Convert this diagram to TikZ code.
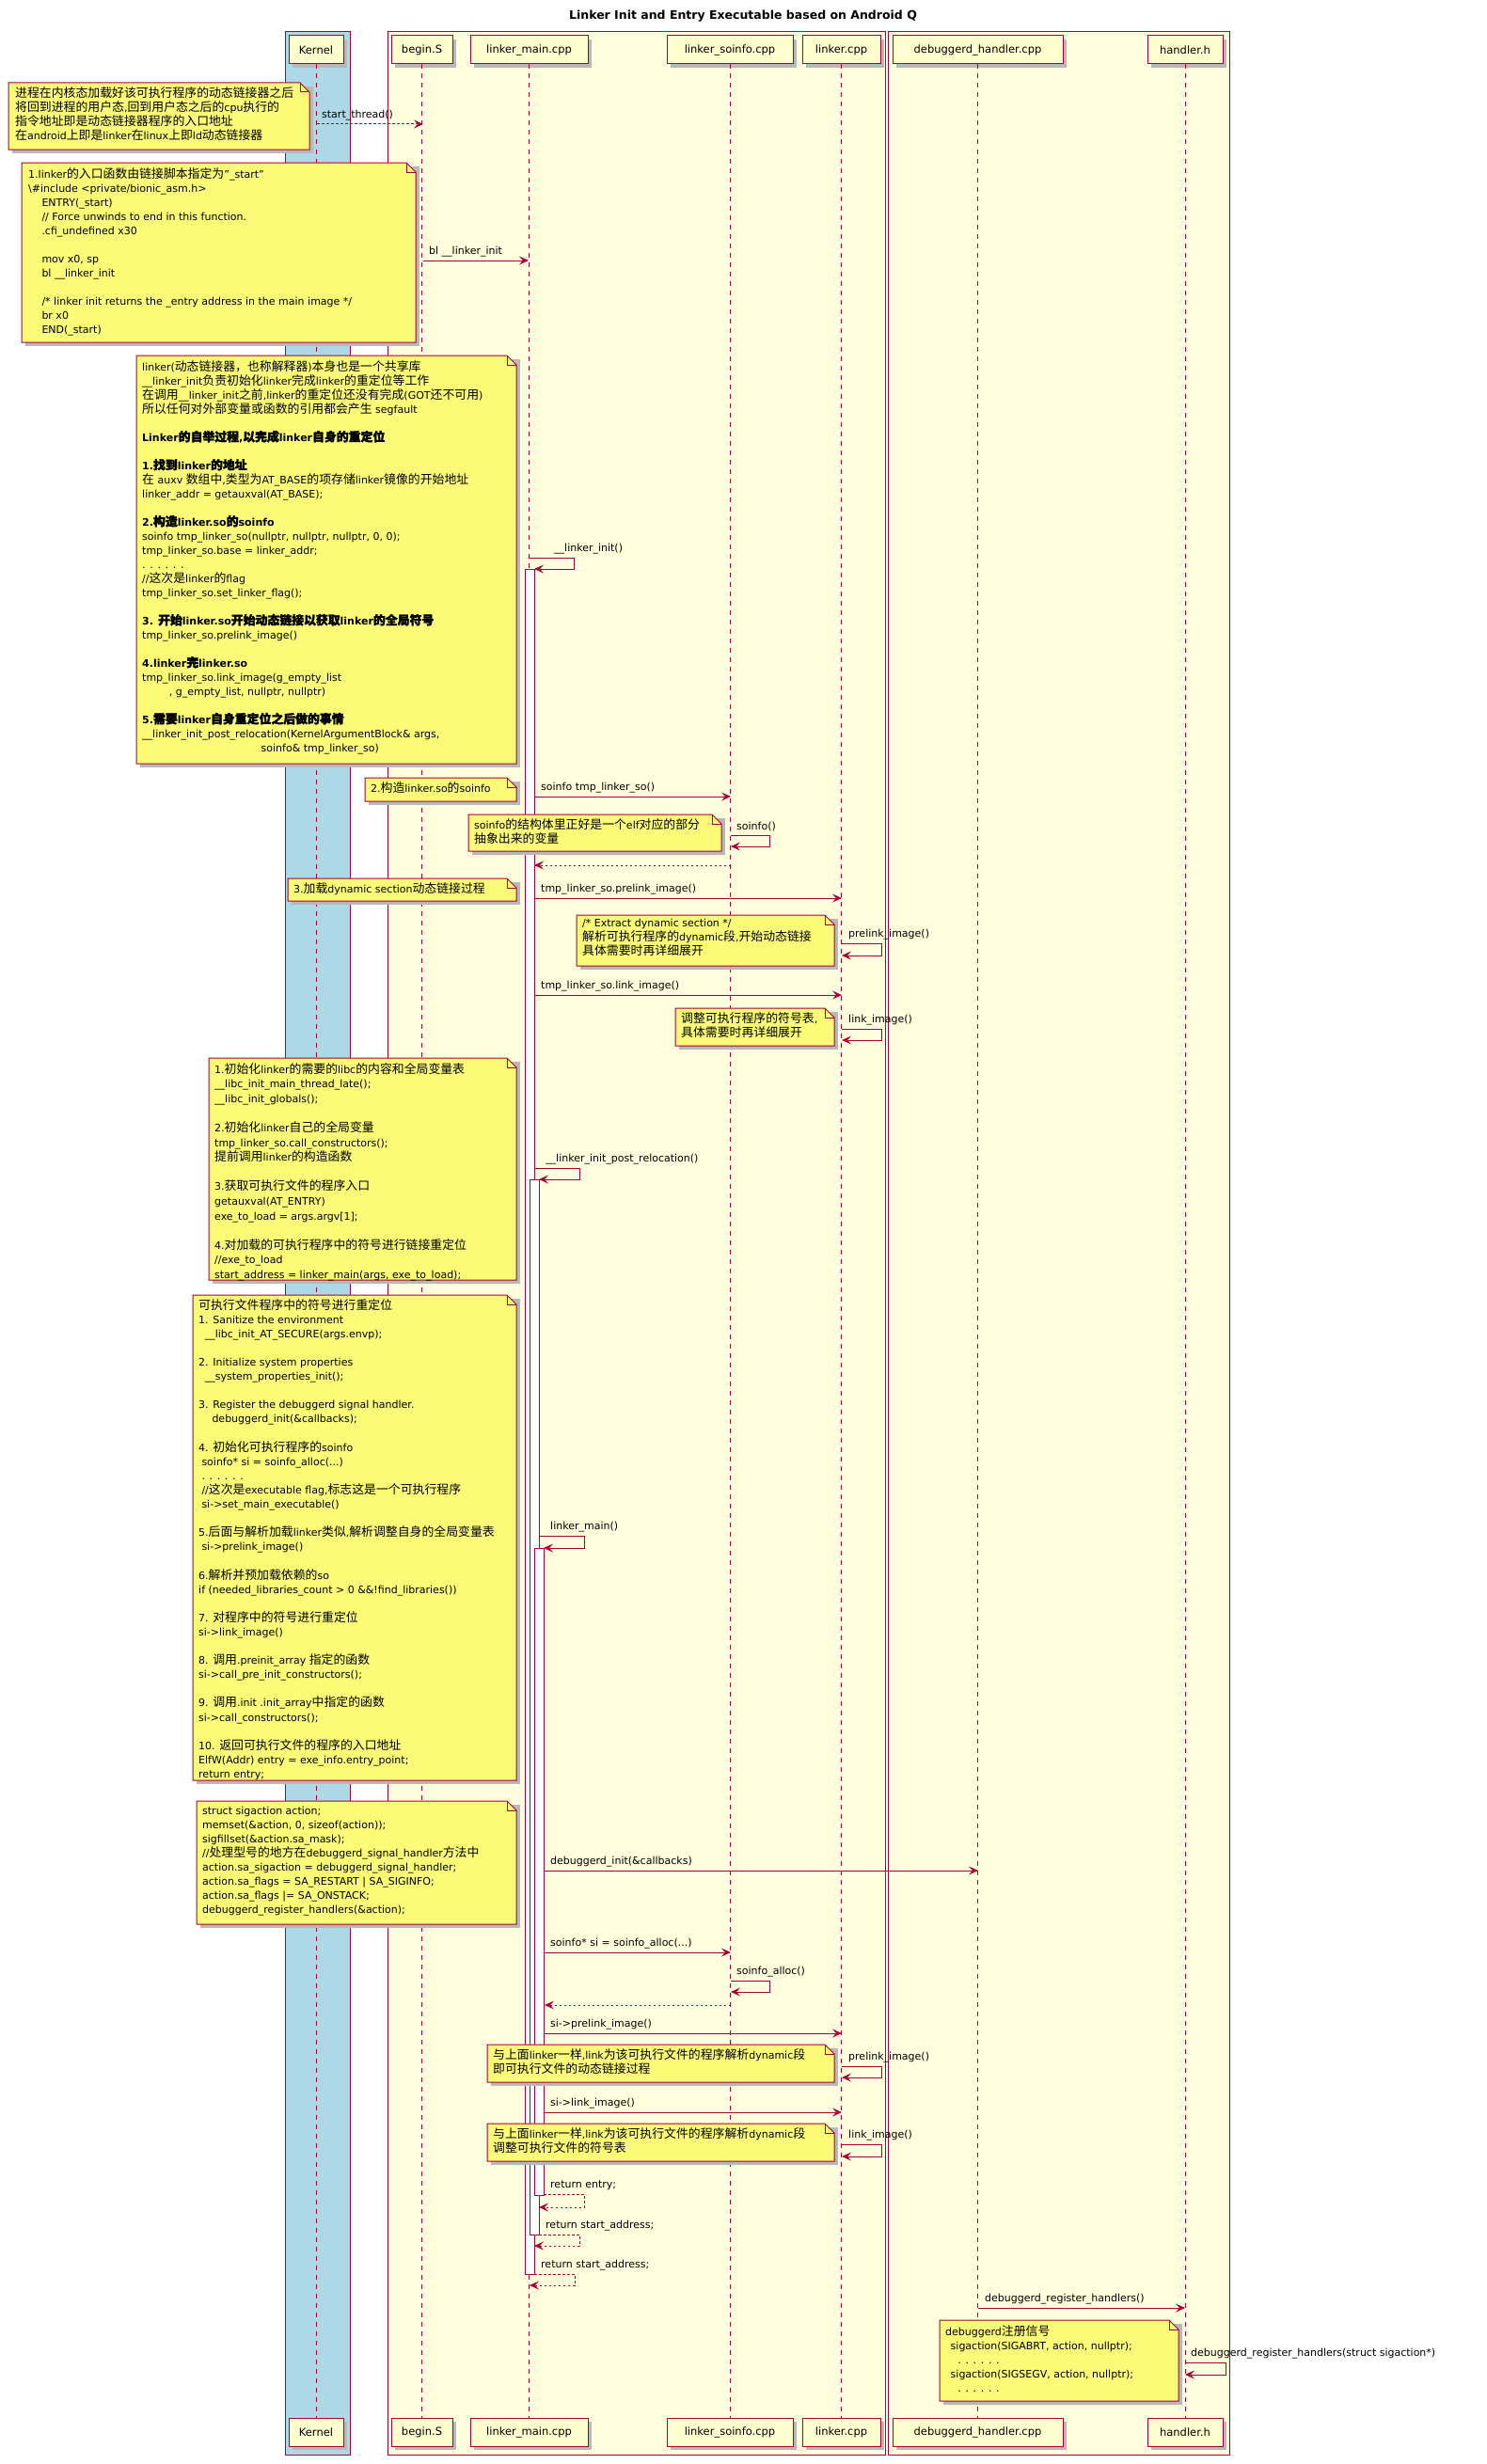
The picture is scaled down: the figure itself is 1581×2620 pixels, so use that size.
\documentclass[tikz,border=0pt]{standalone}
\usepackage{fontspec}
\setmainfont{DejaVu Sans}
\newfontfamily\cjk[Scale=1.17]{Noto Sans CJK SC}
\newfontfamily\cjkb[Scale=1.17,FakeBold=2]{Noto Sans CJK SC}
\newcommand\zh[1]{{\cjk #1}}
\newcommand\zhb[1]{{\cjkb #1}}
\usetikzlibrary{arrows.meta}
\definecolor{crim}{HTML}{A80036}
\definecolor{notefill}{HTML}{FBFB77}
\definecolor{partfill}{HTML}{FEFECE}
\definecolor{grpfill}{HTML}{FFFFDD}
\definecolor{kern}{HTML}{ADD8E6}
\definecolor{shad}{HTML}{B8B8B8}
\newcommand\notebg[4]{%
  \fill[shad] (#1+4,#2+4) rectangle (#3+4,#4+4);
  \draw[crim,fill=notefill,line width=1pt] (#1,#2) -- (#3-10,#2) -- (#3,#2+10) -- (#3,#4) -- (#1,#4) -- cycle;
  \draw[crim,line width=1pt] (#3-10,#2) -- (#3-10,#2+10) -- (#3,#2+10);}
\newcommand\partbox[5]{%
  \fill[shad] (#2+4,#3+4) rectangle (#4+4,#3+34);
  \node[part,minimum width=#4-#2] (#1) at ({(#2+#4)/2},#3+15) {#5};}
\tikzset{
  part/.style={draw=crim,fill=partfill,line width=1pt,minimum height=30pt,inner sep=0pt,font=\fontsize{11.5}{14}\selectfont},
  life/.style={crim,line width=1pt,dash pattern=on 5pt off 5pt},
  msg/.style={crim,line width=1pt,-{Stealth[length=10pt,width=9pt,inset=4pt]}},
  ret/.style={msg,dash pattern=on 2.5pt off 2.5pt},
  lbl/.style={anchor=south west,inner sep=0pt,font=\fontsize{11}{14}\selectfont},
  notetext/.style={anchor=north west,inner sep=0pt,align=left,font=\fontsize{11}{15}\selectfont},
  bar/.style={draw=crim,fill=white,line width=1pt},
}
\begin{document}
\begin{tikzpicture}[x=1pt,y=-1pt]
\useasboundingbox (0,0) rectangle (1581,2620);
\fill[white] (0,0) rectangle (1581,2620);
\node[font=\bfseries\fontsize{12.5}{15}\selectfont] (title) at (790,17) {Linker Init and Entry Executable based on Android Q};
% groups
\draw[crim,fill=kern,line width=1pt] (303,34) rectangle (372,2610);
\draw[crim,fill=grpfill,line width=1pt] (412,34) rectangle (941,2610);
\draw[crim,fill=grpfill,line width=1pt] (944,34) rectangle (1307,2610);
% participants
\partbox{pK}{307}{38}{365}{Kernel}
\partbox{pB}{416}{38}{481}{begin.S}
\partbox{pM}{500}{38}{625}{linker\_main.cpp}
\partbox{pS}{709}{38}{843}{linker\_soinfo.cpp}
\partbox{pL}{853}{38}{936}{linker.cpp}
\partbox{pD}{949}{38}{1130}{debuggerd\_handler.cpp}
\partbox{pH}{1220}{38}{1300}{handler.h}
\partbox{pKb}{307}{2571}{365}{Kernel}
\partbox{pBb}{416}{2571}{481}{begin.S}
\partbox{pMb}{500}{2571}{625}{linker\_main.cpp}
\partbox{pSb}{709}{2571}{843}{linker\_soinfo.cpp}
\partbox{pLb}{853}{2571}{936}{linker.cpp}
\partbox{pDb}{949}{2571}{1130}{debuggerd\_handler.cpp}
\partbox{pHb}{1220}{2571}{1300}{handler.h}
\draw[life] (pK.south) -- (pKb.north);
\draw[life] (pB.south) -- (pBb.north);
\draw[life] (pM.south) -- (pMb.north);
\draw[life] (pS.south) -- (pSb.north);
\draw[life] (pL.south) -- (pLb.north);
\draw[life] (pD.south) -- (pDb.north);
\draw[life] (pH.south) -- (pHb.north);
% activation bars
\draw[bar] (558,605) rectangle (568,2418);
\draw[bar] (563,1254) rectangle (573,2376);
\draw[bar] (568,1646) rectangle (578,2334);

% notes
\notebg{9}{88}{329}{159}
\node[notetext] (nA) at (16,92) {\zh{进程在内核态加载好该可执行程序的动态链接器之后}\\
\zh{将回到进程的用户态},\zh{回到用户态之后的}cpu\zh{执行的}\\
\zh{指令地址即是动态链接器程序的入口地址}\\
\zh{在}android\zh{上即是}linker\zh{在}linux\zh{上即}ld\zh{动态链接器}};

\notebg{23}{173}{442}{364}
\node[notetext] (nB) at (30,178) {1.linker\zh{的入口函数由链接脚本指定为}"\_start"\\
\textbackslash\#include <private/bionic\_asm.h>\\
\hspace*{1.3em}ENTRY(\_start)\\
\hspace*{1.3em}// Force unwinds to end in this function.\\
\hspace*{1.3em}.cfi\_undefined x30\\
~\\
\hspace*{1.3em}mov x0, sp\\
\hspace*{1.3em}bl \_\_linker\_init\\
~\\
\hspace*{1.3em}/* linker init returns the \_entry address in the main image */\\
\hspace*{1.3em}br x0\\
\hspace*{1.3em}END(\_start)};

\notebg{145}{378}{549}{812}
\node[notetext] (nC) at (151,383) {linker(\zh{动态链接器，也称解释器})\zh{本身也是一个共享库}\\
\_\_linker\_init\zh{负责初始化}linker\zh{完成}linker\zh{的重定位等工作}\\
\zh{在调用}\_\_linker\_init\zh{之前},linker\zh{的重定位还没有完成}(GOT\zh{还不可用})\\
\zh{所以任何对外部变量或函数的引用都会产生} segfault\\
~\\
\textbf{Linker\zhb{的自举过程},\zhb{以完成}linker\zhb{自身的重定位}}\\
~\\
\textbf{1.\zhb{找到}linker\zhb{的地址}}\\
\zh{在} auxv \zh{数组中},\zh{类型为}AT\_BASE\zh{的项存储}linker\zh{镜像的开始地址}\\
linker\_addr = getauxval(AT\_BASE);\\
~\\
\textbf{2.\zhb{构造}linker.so\zhb{的}soinfo}\\
soinfo tmp\_linker\_so(nullptr, nullptr, nullptr, 0, 0);\\
tmp\_linker\_so.base = linker\_addr;\\
. . . . . .\\
//\zh{这次是}linker\zh{的}flag\\
tmp\_linker\_so.set\_linker\_flag();\\
~\\
\textbf{3. \zhb{开始}linker.so\zhb{开始动态链接以获取}linker\zhb{的全局符号}}\\
tmp\_linker\_so.prelink\_image()\\
~\\
\textbf{4.linker\zhb{完}linker.so}\\
tmp\_linker\_so.link\_image(g\_empty\_list\\
\hspace*{2.6em}, g\_empty\_list, nullptr, nullptr)\\
~\\
\textbf{5.\zhb{需要}linker\zhb{自身重定位之后做的事情}}\\
\_\_linker\_init\_post\_relocation(KernelArgumentBlock\& args,\\
\hspace*{11.5em}soinfo\& tmp\_linker\_so)};

\notebg{388}{827}{549}{852}
\node[notetext] (n2) at (394,831) {2.\zh{构造}linker.so\zh{的}soinfo};
\notebg{498}{866}{767}{905}
\node[notetext] (nSo) at (504,870) {soinfo\zh{的结构体里正好是一个}elf\zh{对应的部分}\\ \zh{抽象出来的变量}};
\notebg{306}{934}{549}{958}
\node[notetext] (n3) at (312,938) {3.\zh{加载}dynamic section\zh{动态链接过程}};
\notebg{613}{973}{887}{1027}
\node[notetext] (nEx) at (619,977) {/* Extract dynamic section */\\ \zh{解析可执行程序的}dynamic\zh{段},\zh{开始动态链接}\\ \zh{具体需要时再详细展开}};
\notebg{718}{1072}{887}{1112}
\node[notetext] (nLk) at (724,1076) {\zh{调整可执行程序的符号表},\\ \zh{具体需要时再详细展开}};

\notebg{222}{1125}{549}{1361}
\node[notetext,font=\fontsize{11}{15.6}\selectfont] (nD) at (228,1130) {1.\zh{初始化}linker\zh{的需要的}libc\zh{的内容和全局变量表}\\
\_\_libc\_init\_main\_thread\_late();\\
\_\_libc\_init\_globals();\\
~\\
2.\zh{初始化}linker\zh{自己的全局变量}\\
tmp\_linker\_so.call\_constructors();\\
\zh{提前调用}linker\zh{的构造函数}\\
~\\
3.\zh{获取可执行文件的程序入口}\\
getauxval(AT\_ENTRY)\\
exe\_to\_load = args.argv[1];\\
~\\
4.\zh{对加载的可执行程序中的符号进行链接重定位}\\
//exe\_to\_load\\
start\_address = linker\_main(args, exe\_to\_load);};

\notebg{205}{1377}{549}{1893}
\node[notetext,font=\fontsize{11}{15.1}\selectfont] (nE) at (211,1381) {\zh{可执行文件程序中的符号进行重定位}\\
1. Sanitize the environment\\
\hspace*{0.6em}\_\_libc\_init\_AT\_SECURE(args.envp);\\
~\\
2. Initialize system properties\\
\hspace*{0.6em}\_\_system\_properties\_init();\\
~\\
3. Register the debuggerd signal handler.\\
\hspace*{1.3em}debuggerd\_init(\&callbacks);\\
~\\
4. \zh{初始化可执行程序的}soinfo\\
\hspace*{0.3em}soinfo* si = soinfo\_alloc(...)\\
\hspace*{0.3em}. . . . . .\\
\hspace*{0.3em}//\zh{这次是}executable flag,\zh{标志这是一个可执行程序}\\
\hspace*{0.3em}si->set\_main\_executable()\\
~\\
5.\zh{后面与解析加载}linker\zh{类似},\zh{解析调整自身的全局变量表}\\
\hspace*{0.3em}si->prelink\_image()\\
~\\
6.\zh{解析并预加载依赖的}so\\
if (needed\_libraries\_count > 0 \&\&!find\_libraries())\\
~\\
7. \zh{对程序中的符号进行重定位}\\
si->link\_image()\\
~\\
8. \zh{调用}.preinit\_array \zh{指定的函数}\\
si->call\_pre\_init\_constructors();\\
~\\
9. \zh{调用}.init .init\_array\zh{中指定的函数}\\
si->call\_constructors();\\
~\\
10. \zh{返回可执行文件的程序的入口地址}\\
ElfW(Addr) entry = exe\_info.entry\_point;\\
return entry;};

\notebg{209}{1915}{549}{2046}
\node[notetext] (nF) at (215,1921) {struct sigaction action;\\
memset(\&action, 0, sizeof(action));\\
sigfillset(\&action.sa\_mask);\\
//\zh{处理型号的地方在}debuggerd\_signal\_handler\zh{方法中}\\
action.sa\_sigaction = debuggerd\_signal\_handler;\\
action.sa\_flags = SA\_RESTART | SA\_SIGINFO;\\
action.sa\_flags |= SA\_ONSTACK;\\
debuggerd\_register\_handlers(\&action);};

\notebg{518}{2174}{887}{2214}
\node[notetext] (nP2) at (524,2178) {\zh{与上面}linker\zh{一样},link\zh{为该可执行文件的程序解析}dynamic\zh{段}\\ \zh{即可执行文件的动态链接过程}};
\notebg{518}{2258}{887}{2298}
\node[notetext] (nL2) at (524,2262) {\zh{与上面}linker\zh{一样},link\zh{为该可执行文件的程序解析}dynamic\zh{段}\\ \zh{调整可执行文件的符号表}};
\notebg{999}{2467}{1253}{2553}
\node[notetext] (nDbg) at (1005,2472) {debuggerd\zh{注册信号}\\
\hspace*{0.5em}sigaction(SIGABRT, action, nullptr);\\
\hspace*{1.2em}. . . . . .\\
\hspace*{0.5em}sigaction(SIGSEGV, action, nullptr);\\
\hspace*{1.2em}. . . . . .};

% messages
\draw[ret] (337,132) -- (450,132);
\node[lbl] (l1) at (342,128) {start\_thread()};
\draw[msg] (450,277) -- (562,277);
\node[lbl] (l2) at (456,273) {bl \_\_linker\_init};
\draw[msg] (563,593) -- (610,593) -- (610,605) -- (568,605);
\node[lbl] (l3) at (589,589) {\_\_linker\_init()};
\draw[msg] (568,847) -- (777,847);
\node[lbl] (l4) at (575,843) {soinfo tmp\_linker\_so()};
\draw[msg] (777,888) -- (818,888) -- (818,900) -- (777,900);
\node[lbl] (l5) at (783,884) {soinfo()};
\draw[ret] (777,920) -- (568,920);
\draw[msg] (568,955) -- (895,955);
\node[lbl] (l7) at (575,951) {tmp\_linker\_so.prelink\_image()};
\draw[msg] (895,1003) -- (937,1003) -- (937,1016) -- (895,1016);
\node[lbl] (l8) at (902,999) {prelink\_image()};
\draw[msg] (568,1058) -- (895,1058);
\node[lbl] (l9) at (575,1054) {tmp\_linker\_so.link\_image()};
\draw[msg] (895,1094) -- (937,1094) -- (937,1106) -- (895,1106);
\node[lbl] (l10) at (902,1090) {link\_image()};
\draw[msg] (568,1242) -- (616,1242) -- (616,1254) -- (573,1254);
\node[lbl] (l11) at (580,1238) {\_\_linker\_init\_post\_relocation()};
\draw[msg] (573,1633) -- (621,1633) -- (621,1646) -- (578,1646);
\node[lbl] (l12) at (585,1629) {linker\_main()};
\draw[msg] (578,1989) -- (1040,1989);
\node[lbl] (l13) at (585,1985) {debuggerd\_init(\&callbacks)};
\draw[msg] (578,2076) -- (777,2076);
\node[lbl] (l14) at (585,2072) {soinfo* si = soinfo\_alloc(...)};
\draw[msg] (777,2106) -- (818,2106) -- (818,2118) -- (777,2118);
\node[lbl] (l15) at (783,2102) {soinfo\_alloc()};
\draw[ret] (777,2132) -- (579,2132);
\draw[msg] (578,2162) -- (895,2162);
\node[lbl] (l17) at (585,2158) {si->prelink\_image()};
\draw[msg] (895,2197) -- (937,2197) -- (937,2209) -- (895,2209);
\node[lbl] (l18) at (902,2193) {prelink\_image()};
\draw[msg] (578,2246) -- (895,2246);
\node[lbl] (l19) at (585,2242) {si->link\_image()};
\draw[msg] (895,2280) -- (937,2280) -- (937,2293) -- (895,2293);
\node[lbl] (l20) at (902,2276) {link\_image()};
\draw[ret] (578,2333) -- (621,2333) -- (621,2347) -- (573,2347);
\node[lbl] (l21) at (585,2329) {return entry;};
\draw[ret] (573,2376) -- (616,2376) -- (616,2388) -- (568,2388);
\node[lbl] (l22) at (580,2372) {return start\_address;};
\draw[ret] (568,2418) -- (611,2418) -- (611,2430) -- (563,2430);
\node[lbl] (l23) at (575,2414) {return start\_address;};
\draw[msg] (1040,2454) -- (1260,2454);
\node[lbl] (l24) at (1047,2450) {debuggerd\_register\_handlers()};
\draw[msg] (1260,2512) -- (1303,2512) -- (1303,2525) -- (1260,2525);
\node[lbl] (l25) at (1266,2508) {debuggerd\_register\_handlers(struct sigaction*)};
\end{tikzpicture}
\end{document}
